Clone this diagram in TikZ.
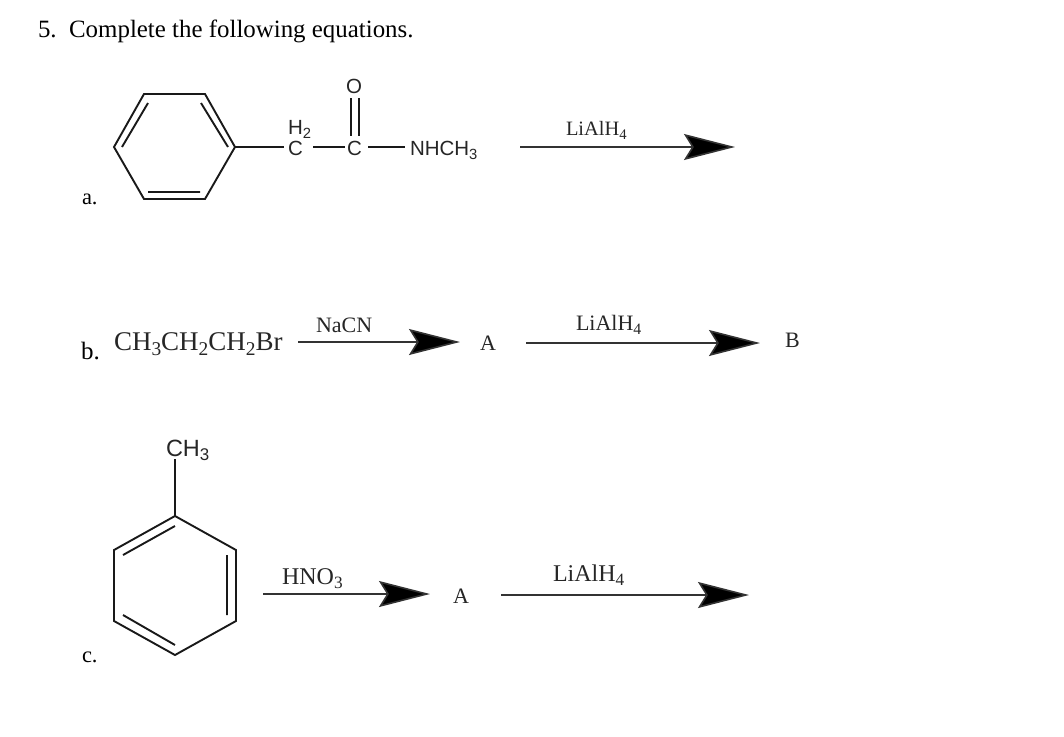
\documentclass[tikz,border=0pt]{standalone}
\usepackage{fontspec}
\setmainfont{Liberation Serif}
\newfontfamily\chemsans{Liberation Sans}
\usetikzlibrary{arrows.meta}
\tikzset{
  x=1pt,y=-1pt,
  txt/.style={inner sep=0pt,outer sep=0pt,anchor=base west,text=black!85},
  ser/.style={txt,font=\fontsize{22}{24}\selectfont},
  lab/.style={txt,font=\fontsize{24.9}{26}\selectfont,text=black},
  chem/.style={txt,font=\chemsans\fontsize{20.5}{22}\selectfont},
  bond/.style={line width=1.9pt,line join=miter,draw=black!90},
  rxn/.style={line width=1.6pt,draw=black!80,-{Stealth[length=51pt,width=26pt,inset=8pt,fill=black]}},
}
\newcommand{\subs}[1]{\raisebox{-0.2em}{\fontsize{0.72em}{1em}\selectfont #1}}
\begin{document}
\begin{tikzpicture}
\useasboundingbox (0,0) rectangle (1064,736);
\fill[white] (0,0) rectangle (1064,736);
\node[lab] (title) at (38,37) {5.\ \ Complete the following equations.};
\node[lab,font=\fontsize{22.5}{24}\selectfont] (la) at (82,204) {a.};
\node[lab,font=\fontsize{25}{26}\selectfont] (lb) at (81,359) {b.};
\node[lab,font=\fontsize{22.5}{24}\selectfont] (lc) at (82,662) {c.};
% ring a
\coordinate (a1) at (114,147); \coordinate (a2) at (144,94); \coordinate (a3) at (205,94);
\coordinate (a4) at (235,147); \coordinate (a5) at (205,199); \coordinate (a6) at (144,199);
\draw[bond] (a1)--(a2)--(a3)--(a4)--(a5)--(a6)--cycle;
\coordinate (a7) at (148,103); \coordinate (a8) at (122,147);
\coordinate (a9) at (201,103); \coordinate (a10) at (228,147);
\coordinate (a11) at (148,192); \coordinate (a12) at (200,192);
\draw[bond] (a7)--(a8) (a9)--(a10) (a11)--(a12);
\node[chem] (c1) at (288,155) {C};
\node[chem] (h2) at (288,134) {H\subs{2}};
\node[chem] (c2) at (347,155) {C};
\node[chem] (o) at (346,93) {O};
\node[chem] (nh) at (410,155) {NHCH\subs{3}};
\draw[bond] (a4)--(284,147);
\draw[bond] (313,147)--(345,147);
\draw[bond] (368,147)--(405,147);
\draw[bond] (351,98)--(351,136) (359,98)--(359,136);
\coordinate (as) at (520,147); \coordinate (ae) at (735,147);
\draw[rxn] (as)--(ae);
\node[ser,font=\fontsize{20.4}{22}\selectfont] (r1) at (566,135) {LiAlH\subs{4}};
% b
\node[ser,font=\fontsize{27}{29}\selectfont] (bs) at (114,350) {CH\subs{3}CH\subs{2}CH\subs{2}Br};
\coordinate (b1) at (298,342); \coordinate (b2) at (460,342);
\draw[rxn] (b1)--(b2);
\node[ser] (r2) at (316,332) {NaCN};
\node[ser] (ba) at (480,350) {A};
\coordinate (b3) at (526,343); \coordinate (b4) at (760,343);
\draw[rxn] (b3)--(b4);
\node[ser] (r3) at (576,330) {LiAlH\subs{4}};
\node[ser] (bb) at (785,347) {B};
% ring c
\coordinate (c1a) at (175,516); \coordinate (c2a) at (236,550); \coordinate (c3a) at (236,621);
\coordinate (c4a) at (175,655); \coordinate (c5a) at (114,621); \coordinate (c6a) at (114,550);
\draw[bond] (c1a)--(c2a)--(c3a)--(c4a)--(c5a)--(c6a)--cycle;
\draw[bond] (123,555)--(175,526) (227,555)--(227,615) (123,615)--(175,645);
\node[chem,font=\chemsans\fontsize{23.5}{24}\selectfont] (me) at (166,456) {CH\subs{3}};
\coordinate (mb) at (175,459);
\draw[bond] (c1a)--(mb);
\coordinate (c7) at (263,594); \coordinate (c8) at (430,594);
\draw[rxn] (c7)--(c8);
\node[ser,font=\fontsize{24}{26}\selectfont] (r4) at (282,584) {HNO\subs{3}};
\node[ser] (ca) at (453,603) {A};
\coordinate (c9) at (501,595); \coordinate (c10) at (749,595);
\draw[rxn] (c9)--(c10);
\node[ser,font=\fontsize{24}{26}\selectfont] (r5) at (553,581) {LiAlH\subs{4}};
\end{tikzpicture}
\end{document}
